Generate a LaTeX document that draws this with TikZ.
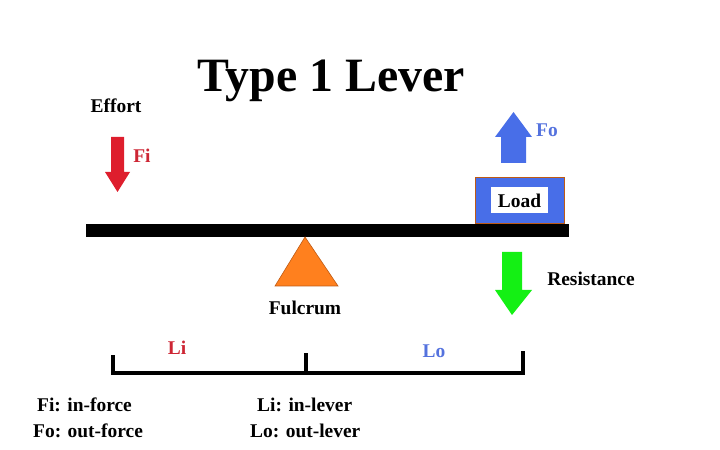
\documentclass[tikz,border=0pt]{standalone}
\usepackage{fontspec}
\setmainfont{Liberation Serif}
\definecolor{effred}{RGB}{222,30,45}
\definecolor{txtred}{RGB}{205,38,52}
\definecolor{loadblue}{RGB}{72,110,232}
\definecolor{txtblue}{RGB}{84,114,222}
\definecolor{resgreen}{RGB}{20,240,20}
\definecolor{fulorange}{RGB}{255,128,30}
\definecolor{edgeorange}{RGB}{190,90,20}
\tikzset{
  lbl/.style={inner sep=0pt,font=\bfseries\fontsize{19.5}{22}\selectfont},
}
\begin{document}
\begin{tikzpicture}[x=1bp,y=-1bp]
\path[use as bounding box] (0,0) rectangle (720,450);
% title
\node[lbl,anchor=base,font=\bfseries\fontsize{48}{54}\selectfont] (title) at (331,92) {Type 1 Lever};
% effort side
\node[lbl,anchor=base] (effort) at (116,113) {Effort};
\fill[effred] (111,137) -- (124,137) -- (124,172) -- (130,172) -- (117.5,192) -- (105,172) -- (111,172) -- cycle;
\node[lbl,anchor=base,text=txtred] (fi) at (142,163) {Fi};
% beam and fulcrum
\fill (86,224) rectangle (569,237);
\filldraw[fill=fulorange,draw=edgeorange,line width=0.6pt] (305,237) -- (338,286) -- (275,286) -- cycle;
\node[lbl,anchor=base] (fulcrum) at (305,315) {Fulcrum};
% load side
\filldraw[fill=loadblue,draw=edgeorange,line width=0.6pt] (475,177) rectangle (564,223);
\node[lbl,fill=white,minimum width=57bp,minimum height=26bp] (load) at (519.5,200.5) {Load};
\fill[loadblue] (501,163) -- (526,163) -- (526,137) -- (532,137) -- (513.5,112) -- (495,137) -- (501,137) -- cycle;
\node[lbl,anchor=base,text=txtblue] (fo) at (547,137) {Fo};
\fill[resgreen] (502,252) -- (522,252) -- (522,290) -- (532,290) -- (512,315) -- (495,290) -- (502,290) -- cycle;
\node[lbl,anchor=base] (resist) at (591,286) {Resistance};
% lengths
\coordinate (l1) at (113,355);
\coordinate (l2) at (306,353);
\coordinate (l3) at (523,351);
\draw[line width=3.8pt] (l1) -- (113,373) -- (523,373) -- (l3) (l2) -- (306,373);
\node[lbl,anchor=base,text=txtred] (li) at (177,355) {Li};
\node[lbl,anchor=base,text=txtblue] (lo) at (434,358) {Lo};
% legend
\node[lbl,anchor=base west] (fikey) at (37,411) {Fi: in-force};
\node[lbl,anchor=base west] (fokey) at (33,437) {Fo: out-force};
\node[lbl,anchor=base west] (likey) at (257,411) {Li: in-lever};
\node[lbl,anchor=base west] (lokey) at (250,437) {Lo: out-lever};
\end{tikzpicture}
\end{document}
